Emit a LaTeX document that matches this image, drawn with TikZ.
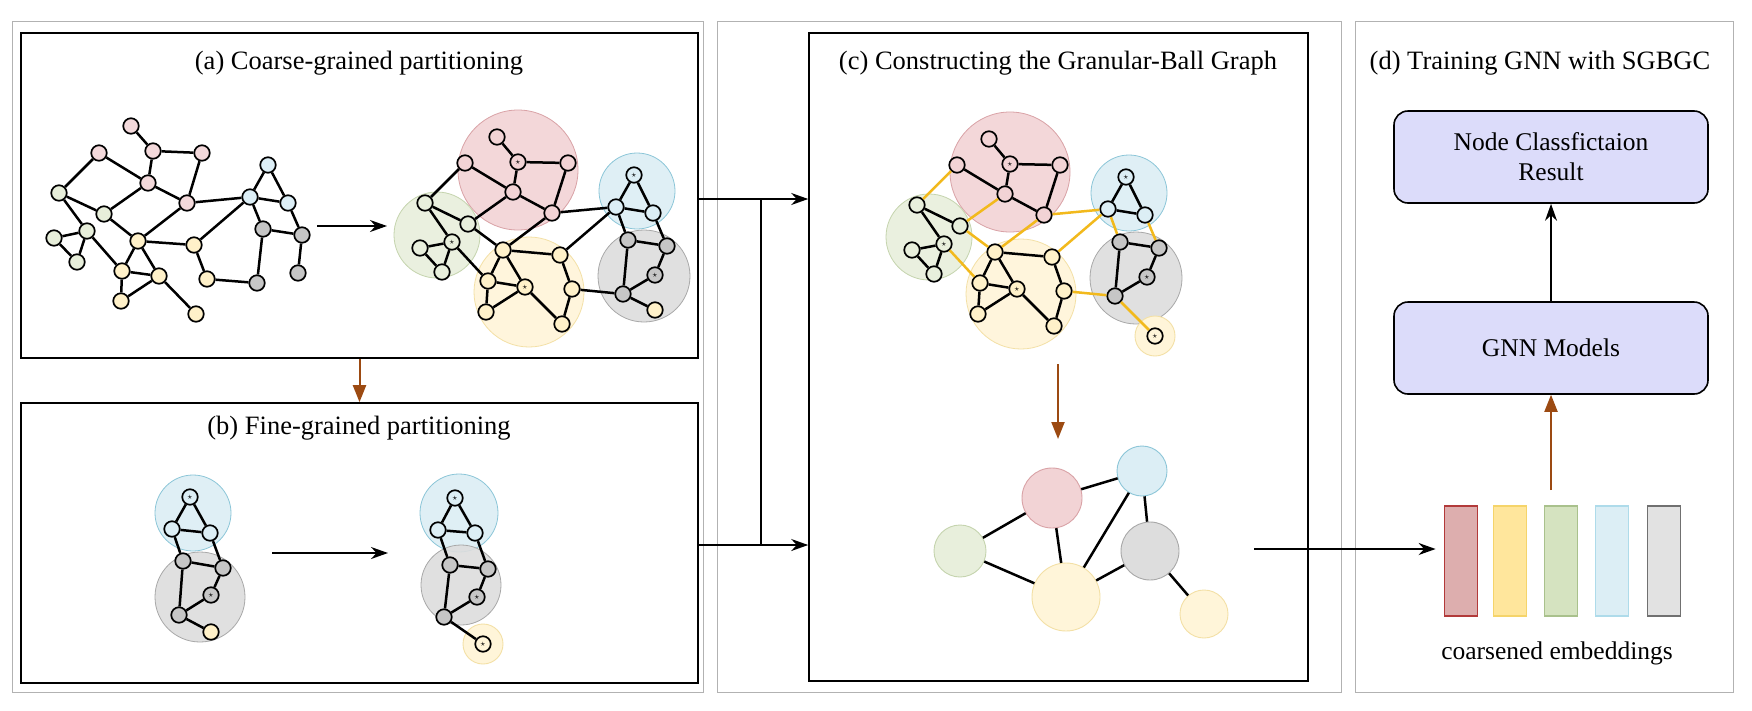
\documentclass[tikz,border=0pt]{standalone}
\usepackage{fontspec}
\setmainfont{Liberation Serif}
\usetikzlibrary{arrows.meta}
\definecolor{rN}{HTML}{F3D9DB}\definecolor{gN}{HTML}{E7EEDA}\definecolor{yN}{HTML}{FFF1C9}
\definecolor{bN}{HTML}{DCEEF6}\definecolor{kN}{HTML}{C6C6C6}
\definecolor{rB}{HTML}{F2D3D5}\definecolor{rBd}{HTML}{D9A2A6}
\definecolor{gB}{HTML}{E8EFDC}\definecolor{gBd}{HTML}{C5D4AE}
\definecolor{yB}{HTML}{FFF5D9}\definecolor{yBd}{HTML}{F3E0A6}
\definecolor{bB}{HTML}{DCEEF5}\definecolor{bBd}{HTML}{8CC6D8}
\definecolor{kB}{HTML}{DDDDDD}\definecolor{kBd}{HTML}{A8A8A8}
\definecolor{orn}{HTML}{F2B91C}\definecolor{brn}{HTML}{9C4A12}
\definecolor{lav}{HTML}{DCDCFA}
\definecolor{e1f}{HTML}{DDAEAE}\definecolor{e1d}{HTML}{B23A3A}
\definecolor{e2f}{HTML}{FFE69C}\definecolor{e2d}{HTML}{F5D46A}
\definecolor{e3f}{HTML}{D5E3C0}\definecolor{e3d}{HTML}{A9C18C}
\definecolor{e4f}{HTML}{DCEEF5}\definecolor{e4d}{HTML}{AEDBEA}
\definecolor{e5f}{HTML}{E2E2E2}\definecolor{e5d}{HTML}{707070}
\tikzset{
 gn/.style={circle,draw=black,line width=1.7pt,minimum size=15.5pt,inner sep=0pt,font=\fontsize{9}{9}\selectfont},
 edge/.style={line width=2.5pt},
 ball/.style={circle,line width=0.8pt,fill opacity=0.9,inner sep=0pt},
 frame/.style={draw=black,line width=1.6pt,inner sep=0pt},
 outer/.style={draw=gray!60,line width=1pt},
 ttl/.style={font=\fontsize{26.5}{30}\selectfont},
 arr/.style={line width=1.8pt,-{Stealth[length=17pt,width=12pt]}},
 barr/.style={draw=brn,line width=2pt,-{Triangle[length=17pt,width=13pt]}},
 lbox/.style={draw=black,line width=1.6pt,rounded corners=14pt,fill=lav,minimum width=314pt,minimum height=92pt,align=center,font=\fontsize{25.5}{30}\selectfont},
 bar/.style={line width=1.8pt,minimum width=33pt,minimum height=110pt,inner sep=0pt},
 sball/.style={circle,line width=0.9pt,inner sep=0pt}
}
\newcommand{\ggraph}[2]{%
 \node[ball,fill=rB,draw=rBd,minimum size=120pt] (#1BR) at (518,170) {};
 \node[ball,fill=gB,draw=gBd,minimum size=86pt] (#1BG) at (437,235) {};
 \node[ball,fill=yB,draw=yBd,minimum size=110pt] (#1BY) at (529,292) {};
 \node[ball,fill=bB,draw=bBd,minimum size=76pt] (#1BB) at (637,191) {};
 \node[ball,fill=kB,draw=kBd,minimum size=92pt] (#1BK) at (644,276) {};
 \foreach \n/\x/\y/\c in {rt/497/137/rB,rr/568/163/rB,rl/465/163/rB,rm/513/192/rB,rd/552/213/rB,
   gt/425/203/gB,gm/468/224/gB,gl/420/248/gB,gb/442/272/gB,
   y1/503/250/yN,y2/560/255/yN,y3/488/281/yN,y5/572/289/yN,y6/486/312/yN,y7/562/324/yN,
   bl/616/207/bB,br/653/213/bB,k1/628/240/kN,k2/667/246/kN,k4/623/294/kN}
   \node[gn,fill=\c] (#1\n) at (\x,\y) {};
 \foreach \n/\x/\y/\c in {rs/518/162/rB,gs/452/242/gB,ys/525/287/yN,bs/634/175/bB,ks/655/275/kN}
   \node[gn,fill=\c] (#1\n) at (\x,\y) {$\star$};
 \foreach \a/\b in {rt/rs,rs/rr,rs/rm,rl/rm,rm/rd,rr/rd,gt/gm,gt/gs,gs/gl,gs/gb,gl/gb,
   y1/y2,y1/y3,y1/ys,y3/ys,y3/y6,ys/y6,ys/y7,y2/y5,y5/y7,bs/bl,bs/br,bl/br,k1/k2,k1/k4,k2/ks,ks/k4}
   \draw[edge] (#1\a) -- (#1\b);
 \foreach \a/\b in {rl/gt,rm/gm,gm/y1,rd/y1,gs/y3,rd/bl,y2/bl,bl/k1,br/k2,y5/k4}
   \draw[edge,draw=#2] (#1\a) -- (#1\b);
}
\newcommand{\bgraph}[1]{%
 \foreach \a/\b in {bs/bl,bs/br,bl/br,bl/k1,br/k2,k1/k2,k1/k4,k2/ks,ks/k4,k4/ky}
   \draw[edge] (#1\a) -- (#1\b);
}
\begin{document}
\begin{tikzpicture}[x=1pt,y=-1pt]
\useasboundingbox (0,0) rectangle (1752,710);
\fill[white] (0,0) rectangle (1752,710);
% outer frames
\draw[outer] (12,21) rectangle (703,692);
\draw[outer] (717,21) rectangle (1341,692);
\draw[outer] (1355,21) rectangle (1733,692);
% boxes
\node[frame,minimum width=677pt,minimum height=325pt] (A) at (359.5,195.5) {};
\node[frame,minimum width=677pt,minimum height=280pt] (B) at (359.5,543) {};
\node[frame,minimum width=499pt,minimum height=648pt] (C) at (1058.5,357) {};
\node[ttl] (ta) at (359,63) {(a) Coarse-grained partitioning};
\node[ttl] (tb) at (359,428) {(b) Fine-grained partitioning};
\node[ttl] (tc) at (1058,63) {(c) Constructing the Granular-Ball Graph};
\node[ttl] (td) at (1540,63) {(d) Training GNN with SGBGC};
% (a) left graph
\foreach \n/\x/\y/\c in {p1/131/126/rN,p2/153/151/rN,p3/202/153/rN,p4/99/153/rN,p5/148/183/rN,p6/187/203/rN,
  g1/59/193/gN,g2/104/214/gN,g3/87/231/gN,g4/54/238/gN,g5/77/262/gN,
  y1/138/241/yN,y2/194/245/yN,y3/122/271/yN,y4/159/276/yN,y5/207/279/yN,y6/121/301/yN,y7/196/314/yN,
  b1/268/165/bN,b2/250/197/bN,b3/288/203/bN,k1/263/229/kN,k2/302/235/kN,k3/298/273/kN,k4/257/283/kN}
  \node[gn,fill=\c] (L\n) at (\x,\y) {};
\foreach \a/\b in {p1/p2,p2/p3,p2/p5,p3/p6,p4/p5,p4/g1,p5/p6,p5/g2,p6/y1,p6/b2,g1/g2,g1/g3,g2/y1,g3/g4,g3/g5,g4/g5,g3/y3,
  y1/y2,y1/y3,y1/y4,y3/y4,y3/y6,y4/y6,y4/y7,y2/y5,y2/b2,y5/k4,b1/b2,b1/b3,b2/b3,b2/k1,b3/k2,k1/k2,k1/k4,k2/k3}
  \draw[edge] (L\a) -- (L\b);
\coordinate (a1) at (317,226); \coordinate (a2) at (387,226);
\draw[arr] (a1) -- (a2);
% (a) right graph
\ggraph{R}{black}
\node[gn,fill=yN] (Rky) at (655,310) {};
\draw[edge] (Rk4) -- (Rky);
% (c) graph
\begin{scope}[shift={(492,2)}]
\ggraph{C}{orn}
\node[sball,fill=yB,draw=yBd,minimum size=40pt] (CBy) at (663,334) {};
\node[gn,fill=yB] (Cky) at (663,334) {$\star$};
\draw[edge,draw=orn] (Ck4) -- (Cky);
\end{scope}
% (b) graphs
\node[ball,fill=bB,draw=bBd,minimum size=76pt] (bBB) at (193,513) {};
\node[ball,fill=kB,draw=kBd,minimum size=90pt] (bBK) at (200,597) {};
\node[gn,fill=bB] (bbs) at (190,497) {$\star$};
\node[gn,fill=bB] (bbl) at (172,529) {};
\node[gn,fill=bB] (bbr) at (210,533) {};
\node[gn,fill=kN] (bk1) at (183,561) {};
\node[gn,fill=kN] (bk2) at (223,568) {};
\node[gn,fill=kN] (bks) at (211,595) {$\star$};
\node[gn,fill=kN] (bk4) at (179,615) {};
\node[gn,fill=yN] (bky) at (211,632) {};
\bgraph{b}
\node[ball,fill=bB,draw=bBd,minimum size=78pt] (cBB) at (459,513) {};
\node[ball,fill=kB,draw=kBd,minimum size=80pt] (cBK) at (461,585) {};
\node[sball,fill=yB,draw=yBd,minimum size=40pt] (cBY) at (483,644) {};
\node[gn,fill=bB] (cbs) at (455,498) {$\star$};
\node[gn,fill=bB] (cbl) at (438,530) {};
\node[gn,fill=bB] (cbr) at (475,533) {};
\node[gn,fill=kN] (ck1) at (450,565) {};
\node[gn,fill=kN] (ck2) at (488,569) {};
\node[gn,fill=kN] (cks) at (477,597) {$\star$};
\node[gn,fill=kN] (ck4) at (444,617) {};
\node[gn,fill=yB] (cky) at (483,644) {$\star$};
\bgraph{c}
\coordinate (b1) at (272,553); \coordinate (b2) at (388,553);
\draw[arr] (b1) -- (b2);
% brown arrows
\draw[barr] (A.south) -- (B.north);
\coordinate (c1) at (1058,364); \coordinate (c2) at (1058,439);
\draw[barr] (c1) -- (c2);
% connectors
\coordinate (j1) at (761,199); \coordinate (j2) at (761,545);
\draw[line width=1.8pt] (A.east |- j1) -- (j1) -- (j2);
\draw[line width=1.8pt] (B.east |- j2) -- (j2);
\draw[arr] (j1) -- (j1 -| C.west);
\draw[arr] (j2) -- (j2 -| C.west);
% summary graph
\node[sball,fill=rB,draw=rBd,minimum size=60pt] (sR) at (1052,498) {};
\node[sball,fill=bB,draw=bBd,minimum size=50pt] (sB) at (1142,471) {};
\node[sball,fill=gB,draw=gBd,minimum size=52pt] (sG) at (960,551) {};
\node[sball,fill=kB,draw=kBd,minimum size=58pt] (sK) at (1150,551) {};
\node[sball,fill=yB,draw=yBd,minimum size=68pt] (sY) at (1066,597) {};
\node[sball,fill=yB,draw=yBd,minimum size=48pt] (sY2) at (1204,614) {};
\foreach \a/\b in {R/B,R/G,R/Y,B/Y,B/K,G/Y,Y/K,K/Y2}
  \draw[edge] (s\a) -- (s\b);
% (d)
\node[lbox] (nc) at (1551,157) {Node Classfictaion\\Result};
\node[lbox] (gm) at (1551,348) {GNN Models};
\draw[arr] (gm) -- (nc);
\node[bar,fill=e1f,draw=e1d] (e1) at (1461,561) {};
\node[bar,fill=e2f,draw=e2d] (e2) at (1510,561) {};
\node[bar,fill=e3f,draw=e3d] (e3) at (1561,561) {};
\node[bar,fill=e4f,draw=e4d] (e4) at (1612,561) {};
\node[bar,fill=e5f,draw=e5d] (e5) at (1664,561) {};
\coordinate (d1) at (1551,490);
\draw[barr] (d1) -- (gm.south);
\node[font=\fontsize{25.5}{30}\selectfont] (ce) at (1557,653) {coarsened embeddings};
\coordinate (s1) at (1254,549);
\draw[arr] (s1) -- ([xshift=-8pt]e1.west |- s1);
\end{tikzpicture}
\end{document}
